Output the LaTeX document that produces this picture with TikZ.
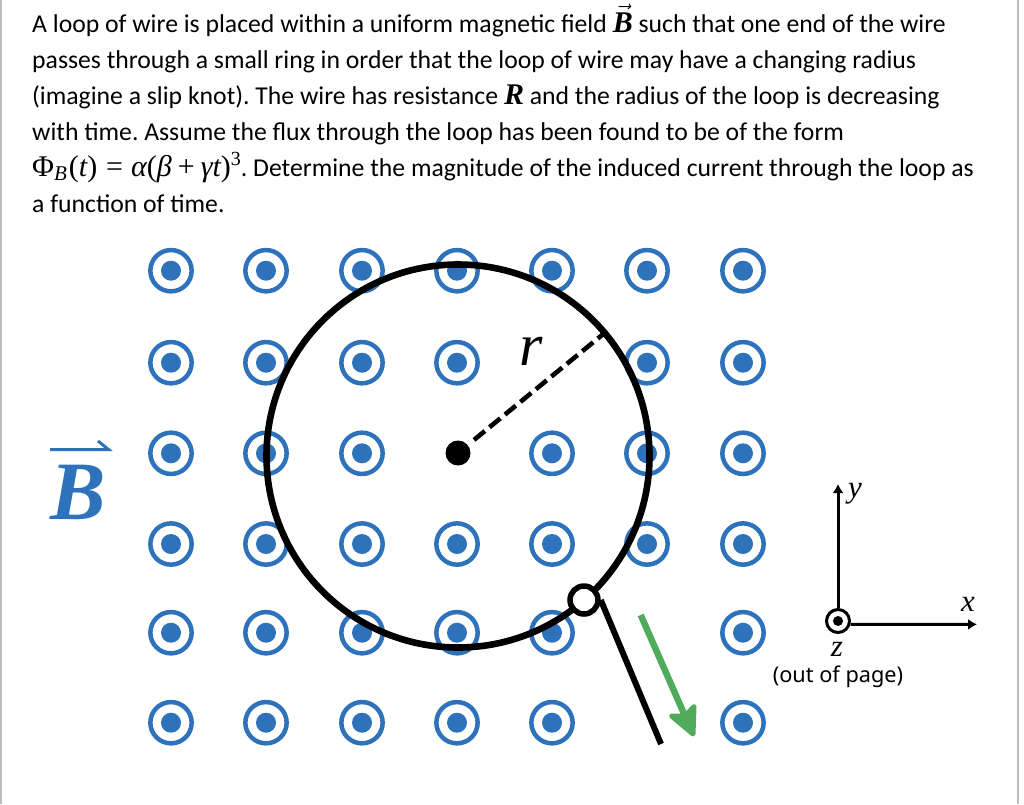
\documentclass[tikz,border=0pt]{standalone}
\usepackage{fix-cm}
\usepackage{amsmath}
\usepackage{amssymb}
\usepackage{fontspec}
\setmainfont{Carlito}
\newfontfamily\axisfont{Noto Sans}
\newfontfamily\mserif{Liberation Serif}
\usetikzlibrary{arrows.meta}
\definecolor{fieldblue}{RGB}{46,114,188}
\definecolor{pullgreen}{RGB}{80,172,92}
\definecolor{edgegray}{RGB}{190,190,190}
\newcommand{\boldit}[1]{{\mserif\bfseries\itshape #1}}
\newcommand{\bodysym}[1]{{\fontsize{30}{36}\selectfont #1}}
\newcommand{\serifit}[1]{{\mserif\itshape #1}}
\frenchspacing
\tikzset{
	textline/.style={anchor=base west, inner sep=0pt, font=\fontsize{25.7}{36}\selectfont},
	fieldring/.style={circle, draw=fieldblue, fill=white, line width=4.5pt, minimum size=41.3pt, inner sep=0pt,
		path picture={\fill[fieldblue] (path picture bounding box.center) circle (10pt);}},
	axisarrow/.style={line width=3pt, -{Latex[length=9pt,width=11pt]}},
	axislabel/.style={anchor=base, inner sep=0pt, font=\fontsize{31}{31}\selectfont\mserif\itshape},
}
\begin{document}
\begin{tikzpicture}[x=1pt, y=-1pt]
	\useasboundingbox (0,0) rectangle (1024,804);
	% Page edges
	\coordinate (edgeAtop) at (0.5,0);
	\coordinate (edgeAbot) at (0.5,804);
	\coordinate (edgeBtop) at (1018,0);
	\coordinate (edgeBbot) at (1018,804);
	\draw[edgegray, line width=2pt] (edgeAtop) -- (edgeAbot);
	\draw[edgegray, line width=1.5pt] (edgeBtop) -- (edgeBbot);
	% Text
	\node[textline] (line1) at (32,32) {A loop of wire is placed within a uniform magnetic field \bodysym{$\vec{\text{\boldit{B}}}$} such that one end of the wire};
	\node[textline] (line2) at (32,68) {passes through a small ring in order that the loop of wire may have a changing radius};
	\node[textline] (line3) at (32,104) {(imagine a slip knot). The wire has resistance \bodysym{\boldit{R}} and the radius of the loop is decreasing};
	\node[textline] (line4) at (32,140) {with time. Assume the flux through the loop has been found to be of the form};
	\node[textline] (line5) at (32,176) {\bodysym{\mserif Φ\raisebox{-4pt}{\fontsize{21}{21}\selectfont\itshape B}\hspace{2pt}(\serifit{t})\hspace{9pt}=\hspace{8pt}\serifit{α}(\serifit{β}\hspace{6pt}+\hspace{6pt}\serifit{γt})\raisebox{11pt}{\fontsize{20}{20}\selectfont 3}}. Determine the magnitude of the induced current through the loop as};
	\node[textline] (line6) at (32,212) {a function of time.};
	% Field rings
	\foreach \c/\x/\rows in {1/171/{1,2,3,4,5,6}, 2/266/{1,2,3,4,5,6}, 3/362/{1,2,3,4,5,6}, 4/457/{1,2,4,5,6}, 5/552/{1,3,4,5,6}, 6/647/{1,2,3,4}, 7/743/{1,2,3,4,5,6}} {
		\foreach \r in \rows {
			\pgfmathsetmacro{\y}{{270.7,362.7,453.3,544,632.7,722.7}[\r-1]}
			\node[fieldring] (ring\c\r) at (\x,\y) {};
		}
	}
	% Loop
	\node[circle, draw, line width=6.6pt, minimum size=383pt, inner sep=0pt] (loop) at (458,456) {};
	\node[circle, fill=black, inner sep=0pt, minimum size=25pt] (hub) at (458,453) {};
	\draw[line width=4.6pt, dash pattern=on 14pt off 6pt, shorten <=8pt, shorten >=6pt] (hub) -- (loop.40);
	\node[axislabel, font=\fontsize{60}{60}\selectfont\mserif\itshape] (rlabel) at (531,365) {r};
	% Slip ring and wire
	\coordinate (wireend) at (661,744);
	\node[circle, draw, fill=white, line width=5.5pt, minimum size=28pt, inner sep=0pt] (slip) at (584,600) {};
	\draw[line width=6pt] (slip.0) -- (wireend);
	\coordinate (pullstart) at (640.7,615);
	\coordinate (pullnotch) at (685,716);
	\coordinate (pulltip) at (693,734);
	\coordinate (pullbarbA) at (671.5,716);
	\coordinate (pullbarbB) at (694,706.5);
	\draw[pullgreen, line width=6.5pt] (pullstart) -- (pullnotch);
	\filldraw[pullgreen, line width=5pt, line join=round] (pullbarbA) -- (pulltip) -- (pullbarbB) -- (pullnotch) -- cycle;
	% Field label
	\node[anchor=base, inner sep=0pt, text=fieldblue, font=\fontsize{83}{83}\selectfont] (Blabel) at (78,519) {\boldit{B}};
	\coordinate (barL) at (50,449.5);
	\coordinate (barR) at (108.5,449.5);
	\coordinate (barH) at (98,441);
	\draw[fieldblue, line width=3pt] (barL) -- (barR) -- (barH);
	% Axes
	\node[circle, draw, line width=3pt, fill=white, minimum size=23pt, inner sep=0pt,
		path picture={\fill[black] (path picture bounding box.center) circle (5pt);}] (origin) at (838,621) {};
	\coordinate (ytip) at (838,484);
	\coordinate (xtip) at (977,624.4);
	\draw[axisarrow] (origin) -- (ytip);
	\draw[axisarrow] (origin.-15) -- (xtip);
	\node[axislabel] (ylabel) at (855,497) {y};
	\node[axislabel] (xlabel) at (968,611) {x};
	\node[axislabel] (zlabel) at (837,656) {z};
	\node[font=\fontsize{21.7}{24}\selectfont\axisfont] (outlabel) at (838,677) {(out of page)};
\end{tikzpicture}
\end{document}
